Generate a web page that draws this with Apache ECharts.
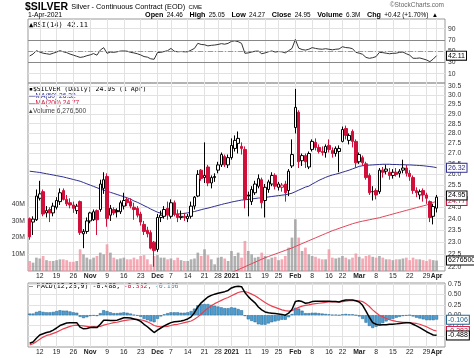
<!DOCTYPE html>
<html><head><meta charset="utf-8">
<script src="https://cdn.jsdelivr.net/npm/echarts@6/dist/echarts.min.js"></script>
<style>html,body{margin:0;padding:0;background:#fff}#c{width:474px;height:358px}</style>
</head><body><div id="c"></div>
<script>
const dates = [
'2020-10-07','2020-10-08','2020-10-09','2020-10-12','2020-10-13','2020-10-14','2020-10-15','2020-10-16','2020-10-19','2020-10-20','2020-10-21','2020-10-22','2020-10-23','2020-10-26','2020-10-27','2020-10-28','2020-10-29','2020-10-30',
'2020-11-02','2020-11-03','2020-11-04','2020-11-05','2020-11-06','2020-11-09','2020-11-10','2020-11-11','2020-11-12','2020-11-13','2020-11-16','2020-11-17','2020-11-18','2020-11-19','2020-11-20','2020-11-23','2020-11-24','2020-11-25','2020-11-27','2020-11-30',
'2020-12-01','2020-12-02','2020-12-03','2020-12-04','2020-12-07','2020-12-08','2020-12-09','2020-12-10','2020-12-11','2020-12-14','2020-12-15','2020-12-16','2020-12-17','2020-12-18','2020-12-21','2020-12-22','2020-12-23','2020-12-24','2020-12-28','2020-12-29','2020-12-30','2020-12-31',
'2021-01-04','2021-01-05','2021-01-06','2021-01-07','2021-01-08','2021-01-11','2021-01-12','2021-01-13','2021-01-14','2021-01-15','2021-01-19','2021-01-20','2021-01-21','2021-01-22','2021-01-25','2021-01-26','2021-01-27','2021-01-28','2021-01-29',
'2021-02-01','2021-02-02','2021-02-03','2021-02-04','2021-02-05','2021-02-08','2021-02-09','2021-02-10','2021-02-11','2021-02-12','2021-02-16','2021-02-17','2021-02-18','2021-02-19','2021-02-22','2021-02-23','2021-02-24','2021-02-25','2021-02-26',
'2021-03-01','2021-03-02','2021-03-03','2021-03-04','2021-03-05','2021-03-08','2021-03-09','2021-03-10','2021-03-11','2021-03-12','2021-03-15','2021-03-16','2021-03-17','2021-03-18','2021-03-19','2021-03-22','2021-03-23','2021-03-24','2021-03-25','2021-03-26','2021-03-29','2021-03-30','2021-03-31',
'2021-04-01'];

const opens = [24.00,23.85,23.95,24.90,25.20,24.25,24.40,24.25,24.50,24.75,
 25.25,24.85,24.70,24.60,24.35,24.75,23.35,23.45,23.90,23.95,
 24.35,24.40,25.35,25.90,24.15,24.40,24.35,24.30,24.55,24.85,
 24.75,24.50,24.45,24.20,23.75,23.50,23.40,23.00,22.70,24.05,
 24.10,24.45,24.10,24.70,24.20,24.05,24.10,24.00,24.10,24.55,
 25.00,26.20,25.85,26.35,25.60,25.85,26.20,26.45,26.85,26.45,
 26.80,27.25,27.50,27.35,27.20,25.05,24.75,25.15,25.45,25.75,
 24.80,25.30,25.55,25.95,25.40,25.40,25.55,25.25,26.40,28.30,
 29.10,26.65,26.90,26.35,27.20,27.55,27.30,27.10,27.05,27.40,
 27.15,27.00,27.10,27.60,28.25,27.65,28.10,27.60,26.60,26.80,
 26.50,25.95,25.20,25.25,25.20,26.20,26.15,26.10,25.95,26.10,
 26.05,26.20,26.30,26.05,25.85,25.25,25.05,25.25,25.05,24.75,
 24.10,24.46];
const highs = [24.05,24.10,25.30,25.70,25.30,24.55,24.50,24.70,24.95,25.35,
 25.35,25.05,24.90,24.75,24.65,24.80,23.55,24.05,24.30,24.40,
 24.40,25.75,26.10,26.05,24.60,24.50,24.45,24.80,25.15,24.95,
 24.90,24.70,24.55,24.30,23.90,23.65,23.50,23.05,24.20,24.35,
 24.55,24.75,24.85,24.80,24.40,24.35,24.25,24.20,24.75,25.00,
 26.20,26.25,27.55,26.45,25.95,26.05,26.60,27.05,26.95,26.95,
 27.75,27.90,28.10,27.55,27.35,25.20,25.45,25.70,26.00,25.85,
 25.55,25.75,26.10,26.05,25.65,25.60,25.70,26.25,27.70,30.35,
 29.20,27.00,27.00,27.10,27.70,27.75,27.45,27.35,27.45,27.70,
 27.30,27.35,27.40,28.35,28.40,28.00,28.20,27.70,27.05,26.90,
 26.60,26.05,25.45,25.35,26.30,26.35,26.45,26.30,26.25,26.30,
 26.25,26.70,26.45,26.20,25.95,25.40,25.30,25.35,25.15,24.80,
 24.65,25.05];
const lows = [23.10,23.30,23.90,24.80,24.10,24.05,23.85,24.10,24.40,24.60,
 24.80,24.55,24.45,24.25,24.20,23.30,22.75,23.35,23.80,23.90,
 23.30,24.30,25.10,23.65,23.90,24.15,24.05,24.20,24.40,24.55,
 24.45,23.95,24.05,23.70,23.30,23.20,22.70,22.00,22.60,23.85,
 24.00,23.95,24.00,24.10,23.85,23.95,23.90,23.85,24.00,24.40,
 24.95,25.70,25.60,25.45,25.35,25.65,26.05,26.35,26.35,26.30,
 26.70,27.10,27.00,26.95,24.45,24.10,24.60,25.05,25.35,24.45,
 24.05,25.15,25.45,25.30,25.25,25.20,24.75,25.00,26.30,28.00,
 26.30,26.40,26.30,26.25,27.10,27.15,27.00,26.90,26.80,27.05,
 26.80,26.85,26.10,27.55,27.70,27.45,27.30,26.30,26.50,26.40,
 25.75,25.05,24.80,24.85,25.10,25.85,26.00,25.75,25.80,25.90,
 25.85,26.05,25.90,25.70,25.10,24.95,24.85,24.75,24.65,23.85,
 23.75,24.27];
const closes = [23.22,23.98,25.00,25.10,24.20,24.35,24.25,24.55,24.80,25.15,
 24.85,24.65,24.60,24.45,24.55,23.40,23.45,23.90,24.25,24.30,
 23.95,25.55,25.75,24.00,24.45,24.25,24.30,24.70,24.80,24.70,
 24.55,24.40,24.15,23.85,23.45,23.35,22.75,22.65,24.05,24.15,
 24.40,24.15,24.70,24.20,24.05,24.10,24.05,24.10,24.55,24.95,
 26.00,25.80,25.95,25.60,25.85,25.90,26.45,26.95,26.45,26.80,
 27.40,27.65,27.75,27.25,24.85,25.00,25.30,25.55,25.80,24.70,
 25.40,25.65,25.95,25.45,25.55,25.50,25.15,26.15,26.95,29.35,
 26.60,26.90,26.60,27.00,27.60,27.30,27.10,27.05,27.35,27.20,
 27.00,27.25,27.25,28.20,27.90,27.90,27.60,26.55,26.95,26.55,
 25.85,25.15,25.20,25.05,26.20,26.10,26.25,25.95,26.10,26.00,
 26.15,26.30,26.05,25.90,25.25,25.15,25.20,25.05,24.90,24.05,
 24.53,24.95];
const volumesM = [6,5,8,7.5,9,6.5,6,6,6.5,7,
 7,6.5,5.5,5.5,6,13,10,8,7,8,
 9,11,10,16,11,8,7,7.5,8,7,
 7,8,7,9,9.5,7,4,9,9.5,8,
 8,7,7.5,6.5,8,6.5,6,6,7,7.5,
 11,9,13,9.5,7,4,8,8.5,7.5,6,
 12,9,11,8,18,12,10,8,8.5,11,
 9,7,8,8.5,6.5,7,9,14,20,31,
 20,12,14,10,9,8.5,7.5,7,7,13,
 8,7.5,8,9,8,7,8,10.5,8.5,7.5,
 9,9.5,8.5,8,9,8,7,7,6.5,7,
 7,7.5,8,6.5,8,7,7,6.5,6,7,
 6.5,6.2765];
const ma50 = [26.15,26.13,26.11,26.09,26.06,26.03,26.00,25.97,25.94,25.91,
 25.88,25.84,25.80,25.76,25.72,25.68,25.62,25.56,25.50,25.44,
 25.38,25.32,25.27,25.22,25.17,25.12,25.07,25.02,24.97,24.92,
 24.86,24.78,24.72,24.65,24.57,24.50,24.42,24.35,24.28,24.24,
 24.22,24.20,24.19,24.19,24.20,24.21,24.23,24.25,24.28,24.31,
 24.35,24.39,24.43,24.46,24.50,24.54,24.58,24.62,24.66,24.69,
 24.73,24.76,24.79,24.82,24.83,24.85,24.87,24.89,24.91,24.92,
 24.94,24.96,24.98,25.00,25.02,25.04,25.06,25.09,25.13,25.20,
 25.27,25.34,25.41,25.45,25.55,25.63,25.72,25.79,25.86,25.92,
 25.97,26.01,26.05,26.10,26.15,26.20,26.26,26.32,26.38,26.41,
 26.43,26.44,26.45,26.46,26.47,26.48,26.48,26.48,26.47,26.47,
 26.46,26.46,26.45,26.45,26.44,26.43,26.42,26.41,26.39,26.37,
 26.35,26.32];
const ma200 = [null,null,null,null,null,null,null,null,null,null,
 null,null,null,null,null,null,null,null,null,null,
 null,null,null,null,null,null,null,null,null,null,
 null,null,null,null,null,null,null,null,null,null,
 null,null,null,null,null,null,null,null,null,null,
 null,null,null,null,null,null,21.55,21.62,21.68,21.74,
 21.78,21.82,21.88,21.94,22.00,22.06,22.12,22.18,22.24,22.30,
 22.36,22.41,22.46,22.51,22.56,22.61,22.66,22.71,22.76,22.82,
 22.88,22.94,23.00,23.06,23.12,23.18,23.24,23.30,23.36,23.42,
 23.48,23.53,23.58,23.63,23.68,23.73,23.78,23.82,23.86,23.89,
 23.92,23.95,23.98,24.01,24.04,24.08,24.12,24.16,24.20,24.24,
 24.28,24.32,24.36,24.40,24.44,24.48,24.52,24.56,24.60,24.65,
 24.71,24.77];
const rsi = [41.6,45,51,48.5,46.5,45.5,44.5,46.5,48.5,51,
 49,47.5,45,43,41,39,40,42,43.5,45.8,
 43,52,56.4,46.3,48.5,48,49,50.3,50.5,50,
 48,47,45.5,43.4,40.5,39.5,36.5,35.7,47.6,48,
 49.5,51,55,50,49,49.5,49,49,52,55,
 64,62,61.5,59.5,60.5,61,62,63.5,62.5,64,
 67.5,68.5,67,64,46.3,47,48.5,50,50.3,45.5,
 47,49,50.5,48.5,49.5,49,47,51,55,71,
 55.5,53,52,53.5,56.4,55,54,53.5,54.5,53.5,
 52.5,53.5,54,58,56.5,56,54.5,48,46.5,44.5,
 39,37.4,38.5,40.4,48,47.5,46.5,45.5,46.3,46.5,
 48,48.5,45.5,43,37.5,37.4,38,36.3,34.5,31.5,
 36,42.11];
const macd = [-0.68,-0.65,-0.56,-0.48,-0.45,-0.42,-0.40,-0.36,-0.31,-0.25,
 -0.22,-0.19,-0.18,-0.18,-0.18,-0.29,-0.33,-0.32,-0.30,-0.29,
 -0.30,-0.22,-0.12,-0.12,-0.13,-0.13,-0.12,-0.09,-0.06,-0.06,
 -0.07,-0.09,-0.11,-0.15,-0.22,-0.28,-0.35,-0.42,-0.36,-0.31,
 -0.26,-0.22,-0.18,-0.16,-0.15,-0.14,-0.12,-0.09,-0.04,0.06,
 0.20,0.30,0.37,0.44,0.48,0.51,0.53,0.55,0.57,0.60,
 0.66,0.69,0.70,0.69,0.55,0.45,0.37,0.30,0.20,0.13,
 0.08,0.06,0.05,0.04,0.03,0.02,0.00,0.05,0.14,0.33,
 0.35,0.33,0.29,0.30,0.33,0.34,0.34,0.34,0.34,0.34,
 0.33,0.33,0.32,0.35,0.37,0.37,0.37,0.35,0.32,0.24,
 0.10,-0.05,-0.18,-0.22,-0.24,-0.23,-0.23,-0.22,-0.22,-0.21,
 -0.20,-0.19,-0.18,-0.18,-0.22,-0.26,-0.30,-0.35,-0.40,-0.44,
 -0.48,-0.488];
const signal = [-0.72,-0.69,-0.64,-0.58,-0.53,-0.49,-0.47,-0.44,-0.41,-0.37,
 -0.33,-0.30,-0.27,-0.25,-0.24,-0.25,-0.26,-0.27,-0.28,-0.28,
 -0.28,-0.27,-0.24,-0.22,-0.20,-0.18,-0.17,-0.15,-0.13,-0.12,
 -0.11,-0.10,-0.10,-0.11,-0.13,-0.16,-0.20,-0.25,-0.27,-0.28,
 -0.28,-0.27,-0.25,-0.23,-0.22,-0.20,-0.18,-0.16,-0.14,-0.10,
 -0.04,0.03,0.10,0.17,0.23,0.28,0.32,0.36,0.40,0.43,
 0.47,0.51,0.55,0.57,0.57,0.55,0.51,0.47,0.42,0.36,
 0.31,0.26,0.22,0.19,0.16,0.13,0.11,0.10,0.11,0.15,
 0.19,0.22,0.24,0.25,0.27,0.28,0.29,0.30,0.31,0.32,
 0.32,0.32,0.32,0.33,0.34,0.35,0.35,0.35,0.35,0.33,
 0.28,0.21,0.13,0.06,0.00,-0.04,-0.08,-0.11,-0.13,-0.15,
 -0.16,-0.17,-0.17,-0.18,-0.19,-0.20,-0.22,-0.25,-0.28,-0.32,
 -0.36,-0.382];
const hist = [0.04,0.04,0.08,0.10,0.08,0.07,0.07,0.08,0.10,0.12,
 0.11,0.11,0.09,0.07,0.06,-0.04,-0.07,-0.05,-0.02,-0.01,
 -0.02,0.05,0.12,0.10,0.07,0.05,0.05,0.06,0.07,0.06,
 0.04,0.01,-0.01,-0.04,-0.09,-0.12,-0.15,-0.17,-0.09,-0.03,
 0.02,0.05,0.07,0.07,0.07,0.06,0.06,0.07,0.10,0.16,
 0.24,0.27,0.27,0.27,0.25,0.23,0.21,0.19,0.17,0.17,
 0.19,0.18,0.15,0.12,-0.02,-0.10,-0.14,-0.17,-0.22,-0.23,
 -0.23,-0.20,-0.17,-0.15,-0.13,-0.11,-0.11,-0.05,0.03,0.18,
 0.16,0.11,0.05,0.05,0.06,0.06,0.05,0.04,0.03,0.02,
 0.01,0.01,0.00,0.02,0.03,0.02,0.02,0.00,-0.03,-0.09,
 -0.18,-0.26,-0.31,-0.28,-0.24,-0.19,-0.15,-0.11,-0.09,-0.06,
 -0.04,-0.02,-0.01,0.00,-0.03,-0.06,-0.08,-0.10,-0.12,-0.12,
 -0.12,-0.106];

const priceTicks = [22.0,22.5,23.0,23.5,24.0,24.5,25.0,25.5,26.0,26.5,27.0,27.5,28.0,28.5,29.0,29.5,30.0,30.5];
const rsiTicks = [10,30,50,70,90];
const volTicks = [10,20,30,40];
const macdTicks = [-0.5,-0.25,0,0.25,0.5,0.75];
const xTickDates = ['2020-10-12','2020-10-19','2020-10-26','2020-11-02','2020-11-09','2020-11-16','2020-11-23','2020-12-01','2020-12-07','2020-12-14','2020-12-21','2020-12-28','2021-01-04','2021-01-11','2021-01-19','2021-01-25','2021-02-01','2021-02-08','2021-02-16','2021-02-22','2021-03-01','2021-03-08','2021-03-15','2021-03-22','2021-03-29','2021-04-01'];
const xTickLabels = ['12','19','26','Nov','9','16','23','Dec','7','14','21','28','2021','11','19','25','Feb','8','16','22','Mar','8','15','22','29','Apr'];
// last-value tags shown at the right edge
const lastRsi = 42.11, lastClose = 24.95, lastMa50 = 26.32, lastMa200 = 24.77, lastVolume = 6276500;
const lastMacd = -0.488, lastSignal = -0.382, lastHist = -0.106;

const SANS = 'Liberation Sans, Arial, sans-serif';
const MONO = 'DejaVu Sans Mono, monospace';
const RED = '#d0103a', BLK = '#000';
const cats = dates.concat(['_p1','_p2']);
const tickSet = new Set(xTickDates);
const L = Math.log;

const candleData = dates.map((d,i)=>{
  const o=opens[i], c=closes[i], prev = i>0 ? closes[i-1] : o;
  const col = c >= prev ? BLK : RED;
  const fill = c >= o ? '#fff' : col;
  return {value:[L(o),L(c),L(lows[i]),L(highs[i])], itemStyle:{color:fill,color0:fill,borderColor:col,borderColor0:col,borderWidth:1}};
});
const volData = dates.map((d,i)=>{
  const prev = i>0 ? closes[i-1] : opens[i];
  return {value:volumesM[i], itemStyle:{color: closes[i] >= prev ? 'rgba(150,150,150,0.75)' : 'rgba(240,140,155,0.75)'}};
});

function box(v, text, col){
  return {yAxis:v, lineStyle:{color:'rgba(0,0,0,0)', width:0, type:'solid'},
    label:{show:true, position:'end', distance:2, formatter:text, color:col, opacity:1, fontSize:7, fontFamily:SANS,
      backgroundColor:'#fff', borderColor:col, borderWidth:1, padding:[1,1,0,1]}};
}
function tagSeries(xi, yi, items, z){
  return {type:'line', xAxisIndex:xi, yAxisIndex:yi, data:[], clip:false, silent:true, z:z||6,
    markLine:{symbol:'none', silent:true, animation:false, data:items}};
}
function fmtX(v){
  const k = xTickDates.indexOf(v);
  if (k < 0) return '';
  const t = xTickLabels[k];
  return t.length > 2 ? '{b|'+t+'}' : t;
}
const xAxes = [0,1,2].map(g=>({
  type:'category', gridIndex:g, data:cats, boundaryGap:true,
  axisLine:{show:false}, axisTick:{show:false},
  axisLabel:{show:g>0, interval:(i,v)=>tickSet.has(v), formatter:fmtX, fontSize:6.8, fontFamily:SANS, color:'#222', margin:2,
    rich:{b:{fontWeight:'bold', fontSize:6.8, fontFamily:SANS, color:'#222'}}},
  splitLine:{show:true, alignWithLabel:true, interval:(i,v)=>tickSet.has(v), lineStyle:{color:'#e2e2e2', width:1}}
}));
const ylab = {fontSize:6.8, fontFamily:SANS, color:'#333', margin:3};
const gridStyle = {left:28, width:417, show:true, borderColor:'#999', borderWidth:1};

const option = {
  animation:false,
  grid:[
    Object.assign({top:19, height:64}, gridStyle),
    Object.assign({top:83, height:188}, gridStyle),
    Object.assign({top:283, height:64}, gridStyle)
  ],
  xAxis:xAxes,
  yAxis:[
    {type:'value', gridIndex:0, position:'right', min:-6.5, max:107.3,
     axisLine:{show:false}, axisTick:{show:false, customValues:rsiTicks},
     axisLabel:Object.assign({customValues:rsiTicks}, ylab),
     splitLine:{show:true, lineStyle:{color:'#e2e2e2'}}},
    {type:'value', gridIndex:1, position:'right', min:L(21.83), max:L(30.675),
     axisLine:{show:false}, axisTick:{show:false, customValues:priceTicks.map(L)},
     axisLabel:Object.assign({customValues:priceTicks.map(L), formatter:v=>Math.exp(v).toFixed(1)}, ylab),
     splitLine:{show:true, lineStyle:{color:'#e2e2e2'}}},
    {type:'value', gridIndex:1, position:'left', min:0, max:112.6,
     axisLine:{show:false}, axisTick:{show:false, customValues:volTicks},
     axisLabel:Object.assign({customValues:volTicks, formatter:v=>v+'M'}, ylab),
     splitLine:{show:false}},
    {type:'value', gridIndex:2, position:'right', min:-0.77, max:0.78,
     axisLine:{show:false}, axisTick:{show:false, customValues:macdTicks},
     axisLabel:Object.assign({customValues:macdTicks, formatter:v=>v.toFixed(2)}, ylab),
     splitLine:{show:true, lineStyle:{color:'#e2e2e2'}}}
  ],
  series:[
    {type:'line', xAxisIndex:0, yAxisIndex:0, data:rsi, symbol:'none', lineStyle:{color:'#333', width:1}, z:3,
     markLine:{symbol:'none', silent:true, label:{show:false},
       data:[
         {yAxis:70, lineStyle:{color:'#888', width:1, type:'solid'}},
         {yAxis:30, lineStyle:{color:'#888', width:1, type:'solid'}},
         {yAxis:50, lineStyle:{color:'#999', width:1, type:[5,2,1,2]}}
       ]}},
    {type:'bar', xAxisIndex:1, yAxisIndex:2, data:volData, barWidth:'80%', z:1},
    {type:'line', xAxisIndex:1, yAxisIndex:1, data:ma200.map(v=>v==null?null:L(v)), symbol:'none', lineStyle:{color:'#e0455a', width:1}, z:2},
    {type:'line', xAxisIndex:1, yAxisIndex:1, data:ma50.map(L), symbol:'none', lineStyle:{color:'#2e2e90', width:1}, z:2},
    {type:'candlestick', xAxisIndex:1, yAxisIndex:1, data:candleData, barWidth:3, z:3},
    {type:'bar', xAxisIndex:2, yAxisIndex:3, data:hist, barWidth:'90%', itemStyle:{color:'#4a9fd4', borderColor:'#23628f', borderWidth:0.5}, z:1},
    {type:'line', xAxisIndex:2, yAxisIndex:3, data:signal, symbol:'none', lineStyle:{color:'#e8404f', width:1.2}, z:2},
    {type:'line', xAxisIndex:2, yAxisIndex:3, data:macd, symbol:'none', lineStyle:{color:'#000', width:1.5}, z:3},
    tagSeries(0, 0, [box(lastRsi, String(lastRsi), '#000')]),
    tagSeries(1, 2, [box(lastVolume/1e6, String(lastVolume), '#000')]),
    tagSeries(1, 1, [box(L(lastMa50), lastMa50.toFixed(2), '#2e2e90'), box(L(lastMa200), lastMa200.toFixed(2), RED)], 6),
    tagSeries(1, 1, [box(L(lastClose), lastClose.toFixed(2), '#000')], 7),
    tagSeries(2, 3, [box(lastHist, lastHist.toFixed(3), '#23628f'), box(lastSignal, lastSignal.toFixed(3), RED)], 6),
    tagSeries(2, 3, [box(lastMacd, lastMacd.toFixed(3), '#000')], 7)
  ],
  graphic:[
    {type:'text', x:25, y:7, style:{text:'{t|$SILVER} {s|Silver - Continuous Contract (EOD)} {c|CME}', verticalAlign:'middle',
      rich:{t:{fontSize:10.5, fontWeight:'bold', fontFamily:SANS, fill:'#000'}, s:{fontSize:7.3, fontFamily:SANS, fill:'#000'}, c:{fontSize:6, fontFamily:SANS, fill:'#000'}}}},
    {type:'text', x:444, y:5.5, style:{text:'\u00A9StockCharts.com', align:'right', verticalAlign:'middle', fontSize:6.5, fontFamily:SANS, fill:'#666'}},
    {type:'text', x:28, y:15.5, style:{text:'1-Apr-2021', verticalAlign:'middle', fontSize:6.8, fontFamily:SANS, fill:'#000'}},
    {type:'text', x:438, y:15.5, style:{align:'right', verticalAlign:'middle',
      text:'{b|Open} {v|24.46}  {b|High} {v|25.05}  {b|Low} {v|24.27}  {b|Close} {v|24.95}  {b|Volume} {v|6.3M}  {b|Chg} {v|+0.42 (+1.70%)} {v|\u25B2}',
      rich:{b:{fontSize:7.2, fontWeight:'bold', fontFamily:SANS, fill:'#000'}, v:{fontSize:6.4, fontFamily:SANS, fill:'#000'}}}},
    {type:'text', x:29, y:25, style:{text:'\u25B2RSI(14) 42.11', verticalAlign:'middle', fontSize:7, fontFamily:MONO, fill:'#000'}},
    {type:'text', x:29, y:89.3, style:{text:'\u25AA$SILVER (Daily) 24.95 (1 Apr)', verticalAlign:'middle', fontSize:6.5, fontFamily:MONO, fill:'#000'}},
    {type:'text', x:29, y:96.5, style:{text:'\u2014MA(50) 26.32', verticalAlign:'middle', fontSize:6.6, fontFamily:SANS, fill:'#2e2e90'}},
    {type:'text', x:29, y:103.5, style:{text:'\u2014MA(200) 24.77', verticalAlign:'middle', fontSize:6.6, fontFamily:SANS, fill:'#d0103a'}},
    {type:'text', x:29, y:110.7, style:{text:'\u25B4Volume 6,276,500', verticalAlign:'middle', fontSize:6.6, fontFamily:SANS, fill:'#444'}},
    {type:'text', x:29, y:286.5, style:{verticalAlign:'middle', text:'{k|\u2014 MACD(12,26,9) -0.488,} {r|-0.382,} {h|-0.106}',
      rich:{k:{fontSize:6.6, fontFamily:MONO, fill:'#000'}, r:{fontSize:6.6, fontFamily:MONO, fill:'#d0103a'}, h:{fontSize:6.6, fontFamily:MONO, fill:'#3a8fc4'}}}}
  ]
};
const chart = echarts.init(document.getElementById('c'), null, {renderer:'canvas', width:474, height:358});
chart.setOption(option);
</script></body></html>
